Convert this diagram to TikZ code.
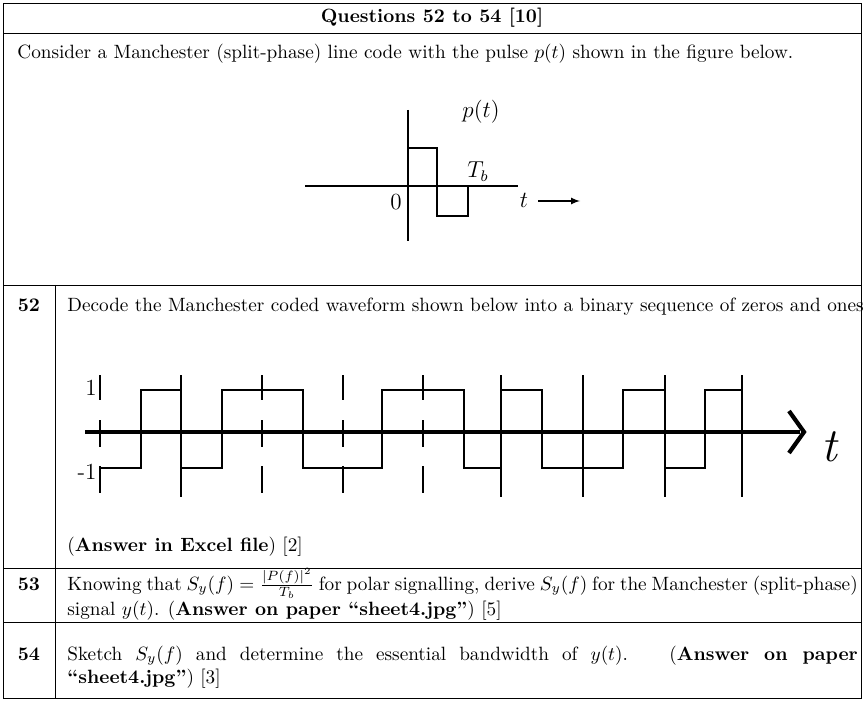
\documentclass[tikz,border=0pt]{standalone}
\begin{document}
\begin{tikzpicture}[x=0.52pt,y=-0.52pt,
  rule/.style={line width=0.5pt},
  wave/.style={line width=1.1pt,line join=miter},
  tick/.style={line width=1.1pt},
  txt/.style={inner sep=0pt,anchor=base west,font=\normalsize}]
\useasboundingbox (0,0) rectangle (863,701);
% table
\draw[rule] (3,3) rectangle (861,698);
\foreach \y in {33,285,568,622} \draw[rule] (3,\y) -- (861,\y);
\draw[rule] (55,285) -- (55,698);
\node[txt,anchor=base] (hd) at (432,23) {\textbf{Questions 52 to 54 [10]}};
\node[txt] (intro) at (17,59) {Consider a Manchester (split-phase) line code with the pulse $p(t)$ shown in the figure below.};
\node[txt,anchor=base] (n52) at (29,312) {\textbf{52}};
\node[txt,anchor=base] (n53) at (29,590) {\textbf{53}};
\node[txt,anchor=base] (n54) at (29,660) {\textbf{54}};
\node[txt] (q52) at (67,312) {Decode the Manchester coded waveform shown below into a binary sequence of zeros and ones};
\node[txt] (a52) at (67,551) {(\textbf{Answer in Excel file}) [2]};
\node[inner sep=0pt,anchor=base west,text width=411pt,align=justify] (q53) at (67,590)
 {Knowing that $S_y(f)=\frac{|P(f)|^2}{T_b}$ for polar signalling, derive $S_y(f)$ for the Manchester (split-phase) signal $y(t)$. (\textbf{Answer on paper ``sheet4.jpg''}) [5]};
\node[inner sep=0pt,anchor=base west,text width=411pt,align=justify] (q54) at (67,660)
 {Sketch $S_y(f)$ and determine the essential bandwidth of $y(t)$. \ (\textbf{Answer on paper}\linebreak \textbf{``sheet4.jpg''}) [3]};
% pulse figure
\draw[line width=0.7pt] (305,186) -- (518,186);
\draw[line width=0.7pt] (408,110) -- (408,241);
\draw[line width=1.4pt] (408,186) -- (408,148) -- (437,148) -- (437,216) -- (468,216) -- (468,186);
\node[txt,anchor=base] (zero) at (396,210) {\large $0$};
\node[txt,anchor=base] (tb) at (478,178) {\large $T_b$};
\node[txt,anchor=base] (pt) at (481,118) {\large $p(t)$};
\node[txt,anchor=base] (tt) at (524,208) {\large $t$};
\coordinate (a1) at (538,201); \coordinate (a2) at (580,201);
\draw[line width=0.6pt,-latex] (a1) -- (a2);
% waveform
\foreach \x in {100,262,343,423}{
  \draw[tick] (\x,375) -- (\x,400); \draw[tick] (\x,420) -- (\x,447); \draw[tick] (\x,466) -- (\x,493);}
\foreach \x in {181,501,583,665,742} \draw[tick] (\x,375) -- (\x,497);
\coordinate (ax0) at (85,432); \coordinate (ax1) at (805,432);
\draw[line width=2.2pt] (ax0) -- (800,432);
\draw[line width=2.2pt,line join=miter] (789,411) -- (804,432) -- (789,453);
\draw[wave] (100,468) -- (141,468) -- (141,390) -- (181,390) -- (181,468) -- (222,468) -- (222,390)
 -- (303,390) -- (303,468) -- (382,468) -- (382,390) -- (464,390) -- (464,468) -- (501,468) -- (501,390)
 -- (542,390) -- (542,468) -- (623,468) -- (623,390) -- (665,390) -- (665,468) -- (705,468) -- (705,390) -- (742,390);
\node[font=\large,inner sep=0pt] (one) at (91,388) {1};
\node[font=\large,inner sep=0pt] (mone) at (87,472) {-1};
\node[font=\Huge\itshape,inner sep=0pt] (tw) at (829,447) {t};
\end{tikzpicture}
\end{document}
